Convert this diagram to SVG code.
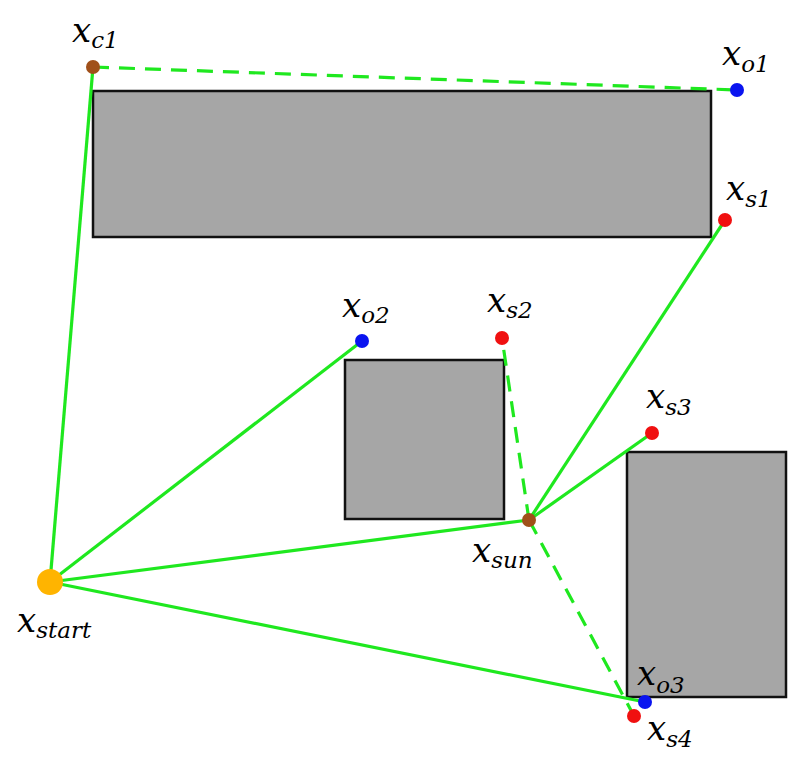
<svg xmlns="http://www.w3.org/2000/svg" width="805" height="766" viewBox="0 0 805 766">
<style>
.obs{fill:#a6a6a6;stroke:#111;stroke-width:2.5}
.ln{stroke:#1fe81f;stroke-width:3.2;fill:none}
.dash{stroke-dasharray:16 10}
</style>
<rect width="805" height="766" fill="#fff"/>
<g id="obstacles">
<rect id="obs1" class="obs" x="93" y="91" width="618" height="146"/>
<rect id="obs2" class="obs" x="345" y="360" width="159" height="159"/>
<rect id="obs3" class="obs" x="627" y="452" width="159" height="245"/>
</g>
<g id="connectors">
<line class="ln dash" x1="93" y1="67" x2="737" y2="90"/>
<line class="ln" x1="93" y1="67" x2="50" y2="582"/>
<line class="ln" x1="50" y1="582" x2="362" y2="341"/>
<line class="ln" x1="50" y1="582" x2="529" y2="520"/>
<line class="ln" x1="50" y1="582" x2="645" y2="702"/>
<line class="ln dash" x1="529" y1="520" x2="502" y2="338"/>
<line class="ln dash" x1="529" y1="520" x2="634" y2="716"/>
<line class="ln" x1="529" y1="520" x2="725" y2="220"/>
<line class="ln" x1="529" y1="520" x2="652" y2="433"/>
</g>
<g font-family="'DejaVu Serif', serif" font-style="italic" font-size="34" fill="#000">
<g id="xc1"><circle cx="93" cy="67" r="7" fill="#a0501a"/><text x="72" y="42">x<tspan font-size="23" dy="6">c1</tspan></text></g>
<g id="xo1"><circle cx="737" cy="90" r="7" fill="#0a14f0"/><text x="722" y="65">x<tspan font-size="23" dy="7">o1</tspan></text></g>
<g id="xs1"><circle cx="725" cy="220" r="7" fill="#f01010"/><text x="726" y="200">x<tspan font-size="23" dy="7">s1</tspan></text></g>
<g id="xo2"><circle cx="362" cy="341" r="7" fill="#0a14f0"/><text x="342" y="317">x<tspan font-size="23" dy="6">o2</tspan></text></g>
<g id="xs2"><circle cx="502" cy="338" r="7" fill="#f01010"/><text x="487" y="312">x<tspan font-size="23" dy="6">s2</tspan></text></g>
<g id="xs3"><circle cx="652" cy="433" r="7" fill="#f01010"/><text x="646" y="408">x<tspan font-size="23" dy="7">s3</tspan></text></g>
<g id="xsun"><circle cx="529" cy="520" r="7" fill="#a0501a"/><text x="472" y="562">x<tspan font-size="23" dy="6">sun</tspan></text></g>
<g id="xstart"><circle cx="50" cy="582" r="13" fill="#ffb400"/><text x="17" y="632">x<tspan font-size="23" dy="6">start</tspan></text></g>
<g id="xo3"><circle cx="645" cy="702" r="7" fill="#0a14f0"/><text x="637" y="685">x<tspan font-size="23" dy="8">o3</tspan></text></g>
<g id="xs4"><circle cx="634" cy="716" r="7" fill="#f01010"/><text x="647" y="740">x<tspan font-size="23" dy="7">s4</tspan></text></g>
</g>
</svg>
